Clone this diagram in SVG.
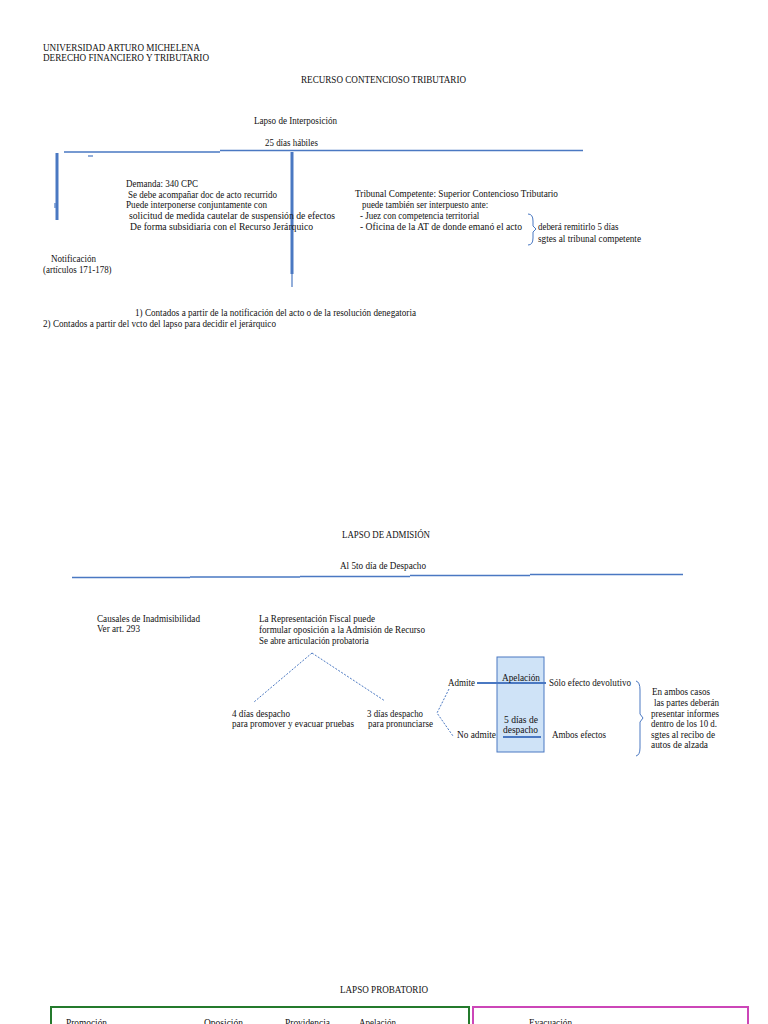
<svg xmlns="http://www.w3.org/2000/svg" width="768" height="1024" viewBox="0 0 768 1024">
<style>
text{font-family:"Liberation Serif","Times New Roman",serif;font-size:10.5px;fill:#111;}
.ln{stroke:#4a78c2;fill:none;}
.dash{stroke:#4a78c2;fill:none;stroke-width:1;stroke-dasharray:2,1.5;}
</style>
<rect width="768" height="1024" fill="#fff"/>
<g id="header">
<text x="43" y="51" textLength="157" lengthAdjust="spacingAndGlyphs">UNIVERSIDAD ARTURO MICHELENA</text>
<text x="43" y="61" textLength="166" lengthAdjust="spacingAndGlyphs">DERECHO FINANCIERO Y TRIBUTARIO</text>
<text x="301" y="83" textLength="165" lengthAdjust="spacingAndGlyphs">RECURSO CONTENCIOSO TRIBUTARIO</text>
</g>
<g id="connectors">
<path class="ln" stroke-width="1.5" d="M64 152 H220 M220 150.5 H583"/>
<path class="ln" stroke-width="1.2" d="M88 156 H93"/>
<path class="ln" stroke-width="3" d="M57 153 V220"/>
<path class="ln" stroke-width="1.2" d="M55 203 V208"/>
<path class="ln" stroke-width="3" d="M292 152 V274"/>
<path class="ln" stroke-width="1.2" d="M292 274 V287"/>
<path class="ln" stroke-width="1" d="M528 214 Q533 214 533 221 L533 226 L536 229 L533 232 L533 238 Q533 245 528 245"/>
<path class="ln" stroke-width="1.5" d="M72 577.5 H190 M190 577 H300 M300 576.5 H410 M410 575.5 H530 M530 574.5 H683"/>
<path class="dash" d="M312 653 L254 702"/>
<path class="dash" d="M312 653 L385 701"/>
<path class="dash" d="M449 689 L437 713 L453 736"/>
<rect x="497" y="657" width="47" height="95" fill="#cfe3f7" stroke="#4a78c2" stroke-width="1"/>
<path class="ln" stroke-width="2" d="M477 683 H546"/>
<path class="ln" stroke-width="2" d="M503 737 H541"/>
<path class="ln" stroke-width="1" d="M636 681 Q640 682 640 690 L640 714 L643 718 L640 722 L640 748 Q640 755 636 756"/>
<rect x="51" y="1007" width="418" height="30" fill="none" stroke="#247a2c" stroke-width="2"/>
<rect x="473" y="1007" width="275" height="30" fill="none" stroke="#cc46b8" stroke-width="2"/>
</g>
<g id="interposicion">
<text x="254" y="124" textLength="83" lengthAdjust="spacingAndGlyphs">Lapso de Interposición</text>
<text x="265" y="146" textLength="53" lengthAdjust="spacingAndGlyphs">25 días hábiles</text>
</g>
<g id="demanda">
<text x="126" y="187" textLength="72" lengthAdjust="spacingAndGlyphs">Demanda: 340 CPC</text>
<text x="128" y="198" textLength="149" lengthAdjust="spacingAndGlyphs">Se debe acompañar doc de acto recurrido</text>
<text x="126" y="208" textLength="141" lengthAdjust="spacingAndGlyphs">Puede interponerse conjuntamente con</text>
<text x="129" y="219" textLength="206" lengthAdjust="spacingAndGlyphs">solicitud de medida cautelar de suspensión de efectos</text>
<text x="130" y="230" textLength="183" lengthAdjust="spacingAndGlyphs">De forma subsidiaria con el Recurso Jerárquico</text>
</g>
<g id="notificacion">
<text x="51" y="262" textLength="45" lengthAdjust="spacingAndGlyphs">Notificación</text>
<text transform="translate(43 273) scale(0.85 1)">(artículos 171-178)</text>
</g>
<g id="tribunal">
<text x="355" y="197" textLength="203" lengthAdjust="spacingAndGlyphs">Tribunal Competente: Superior Contencioso Tributario</text>
<text transform="translate(362 208) scale(0.85 1)">puede también ser interpuesto ante:</text>
<text transform="translate(360 219) scale(0.85 1)">- Juez con competencia territorial</text>
<text x="360" y="230" textLength="162" lengthAdjust="spacingAndGlyphs">- Oficina de la AT de donde emanó el acto</text>
<text transform="translate(538 230) scale(0.85 1)">deberá remitirlo 5 días</text>
<text x="538" y="242" textLength="103" lengthAdjust="spacingAndGlyphs">sgtes al tribunal competente</text>
</g>
<g id="contados">
<text x="135" y="316" textLength="281" lengthAdjust="spacingAndGlyphs">1) Contados a partir de la notificación del acto o de la resolución denegatoria</text>
<text x="43" y="327" textLength="233" lengthAdjust="spacingAndGlyphs">2) Contados a partir del vcto del lapso para decidir el jerárquico</text>
</g>
<g id="admision">
<text x="342" y="538" textLength="88" lengthAdjust="spacingAndGlyphs">LAPSO DE ADMISIÓN</text>
<text x="340" y="569" textLength="86" lengthAdjust="spacingAndGlyphs">Al 5to día de Despacho</text>
</g>
<g id="causales">
<text x="97" y="622" textLength="103" lengthAdjust="spacingAndGlyphs">Causales de Inadmisibilidad</text>
<text x="97" y="632" textLength="43" lengthAdjust="spacingAndGlyphs">Ver art. 293</text>
</g>
<g id="representacion">
<text x="259" y="622" textLength="116" lengthAdjust="spacingAndGlyphs">La Representación Fiscal puede</text>
<text x="259" y="633" textLength="166" lengthAdjust="spacingAndGlyphs">formular oposición a la Admisión de Recurso</text>
<text transform="translate(259 644) scale(0.85 1)">Se abre articulación probatoria</text>
</g>
<g id="cuatro-dias">
<text x="232" y="717" textLength="58" lengthAdjust="spacingAndGlyphs">4 días despacho</text>
<text x="232" y="727" textLength="122" lengthAdjust="spacingAndGlyphs">para promover y evacuar pruebas</text>
</g>
<g id="tres-dias">
<text x="367" y="717" textLength="56" lengthAdjust="spacingAndGlyphs">3 días despacho</text>
<text x="368" y="727" textLength="65" lengthAdjust="spacingAndGlyphs">para pronunciarse</text>
</g>
<g id="admite"><text x="448" y="686" textLength="27" lengthAdjust="spacingAndGlyphs">Admite</text></g>
<g id="no-admite"><text x="457" y="738" textLength="39" lengthAdjust="spacingAndGlyphs">No admite</text></g>
<g id="apelacion-box">
<text x="502" y="681" textLength="38" lengthAdjust="spacingAndGlyphs">Apelación</text>
<text x="504" y="723" textLength="34" lengthAdjust="spacingAndGlyphs">5 días de</text>
<text x="503" y="733" textLength="35" lengthAdjust="spacingAndGlyphs">despacho</text>
</g>
<g id="efectos">
<text x="549" y="686" textLength="82" lengthAdjust="spacingAndGlyphs">Sólo efecto devolutivo</text>
<text x="552" y="738" textLength="54" lengthAdjust="spacingAndGlyphs">Ambos efectos</text>
</g>
<g id="ambos-casos">
<text x="652" y="695" textLength="58" lengthAdjust="spacingAndGlyphs">En ambos casos</text>
<text x="654" y="706" textLength="65" lengthAdjust="spacingAndGlyphs">las partes deberán</text>
<text x="651" y="717" textLength="68" lengthAdjust="spacingAndGlyphs">presentar informes</text>
<text x="651" y="727" textLength="66" lengthAdjust="spacingAndGlyphs">dentro de los 10 d.</text>
<text x="651" y="738" textLength="64" lengthAdjust="spacingAndGlyphs">sgtes al recibo de</text>
<text x="651" y="748" textLength="57" lengthAdjust="spacingAndGlyphs">autos de alzada</text>
</g>
<g id="probatorio">
<text x="340" y="993" textLength="88" lengthAdjust="spacingAndGlyphs">LAPSO PROBATORIO</text>
<text x="66" y="1026" textLength="41" lengthAdjust="spacingAndGlyphs">Promoción</text>
<text x="204" y="1026" textLength="39" lengthAdjust="spacingAndGlyphs">Oposición</text>
<text x="285" y="1026" textLength="45" lengthAdjust="spacingAndGlyphs">Providencia</text>
<text x="359" y="1026" textLength="37" lengthAdjust="spacingAndGlyphs">Apelación</text>
<text x="529" y="1026" textLength="43" lengthAdjust="spacingAndGlyphs">Evacuación</text>
</g>
</svg>
